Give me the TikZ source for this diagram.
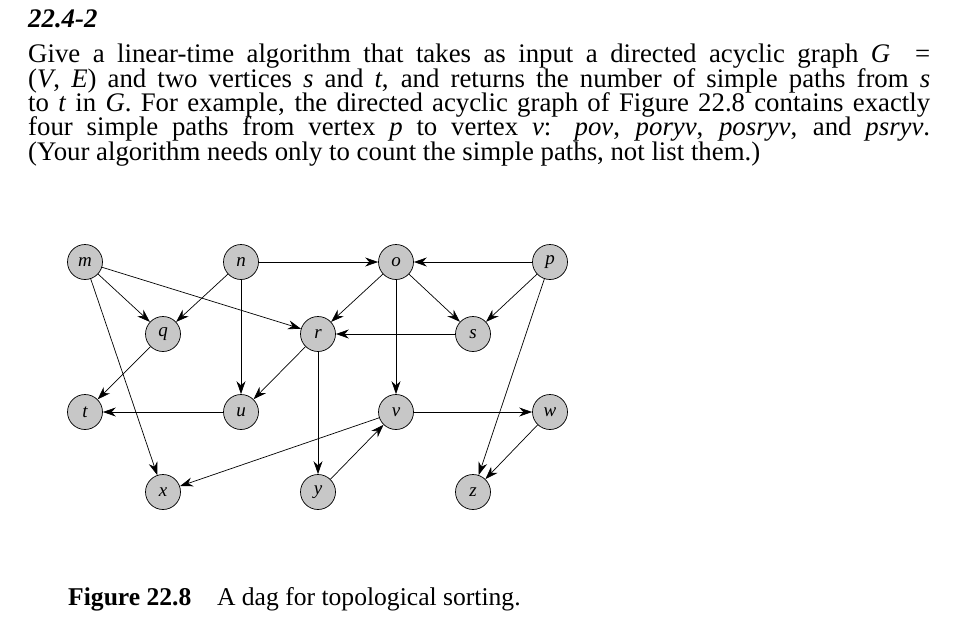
\documentclass[tikz,border=0pt]{standalone}
\usepackage{fontspec}
\setmainfont{Liberation Serif}
\usetikzlibrary{arrows.meta}
\newcommand{\mv}[1]{\textit{#1}}
\begin{document}
\begin{tikzpicture}[x=1pt,y=-1pt,
  vtx/.style={circle,draw=black,fill=black!22,line width=0.7pt,minimum size=35pt,inner sep=0pt,font=\fontsize{19}{19}\selectfont\itshape},
  edge/.style={-{Stealth[length=13pt,width=9pt]},line width=0.7pt},
  txt/.style={anchor=base west,inner sep=0pt,font=\fontsize{26.8}{24}\selectfont}]
\useasboundingbox (0,0) rectangle (961,640);
\fill[white] (0,0) rectangle (961,640);
\node[txt] (h) at (28,27) {\textbf{\textit{22.4-2}}};
\node[txt] (l1) at (28,62) {\makebox[902pt][s]{Give a linear-time algorithm that takes as input a directed acyclic graph \mv{G} \ =}};
\node[txt] (l2) at (28,87) {\makebox[902pt][s]{(\mv{V}, \mv{E}) and two vertices \mv{s} and \mv{t}, and returns the number of simple paths from \mv{s}}};
\node[txt] (l3) at (28,111) {\makebox[902pt][s]{to \mv{t} in \mv{G}. For example, the directed acyclic graph of Figure 22.8 contains exactly}};
\node[txt] (l4) at (28,135) {\makebox[902pt][s]{four simple paths from vertex \mv{p} to vertex \mv{v}: \mv{pov}, \mv{poryv}, \mv{posryv}, and \mv{psryv}.}};
\node[txt] (l5) at (28,160) {(Your algorithm needs only to count the simple paths, not list them.)};
\node[txt,font=\fontsize{25.6}{24}\selectfont] (cap) at (68,605) {\textbf{Figure 22.8}\quad A dag for topological sorting.};

\node[vtx] (m) at (85,262) {m};
\node[vtx] (n) at (241,262) {n};
\node[vtx] (o) at (396,262) {o};
\node[vtx] (p) at (550,262) {p};
\node[vtx] (q) at (163,334) {q};
\node[vtx] (r) at (318,334) {r};
\node[vtx] (s) at (473,334) {s};
\node[vtx] (t) at (85,412) {t};
\node[vtx] (u) at (241,412) {u};
\node[vtx] (v) at (396,412) {v};
\node[vtx] (w) at (550,412) {w};
\node[vtx] (x) at (163,492) {x};
\node[vtx] (y) at (318,492) {y};
\node[vtx] (z) at (473,492) {z};

\foreach \a/\b in {m/q,m/r,m/x,n/q,n/u,n/o,o/r,o/s,o/v,p/o,p/s,p/z,q/t,r/u,r/y,s/r,u/t,v/x,v/w,w/z,y/v}
  \draw[edge] (\a) -- (\b);
\end{tikzpicture}
\end{document}
